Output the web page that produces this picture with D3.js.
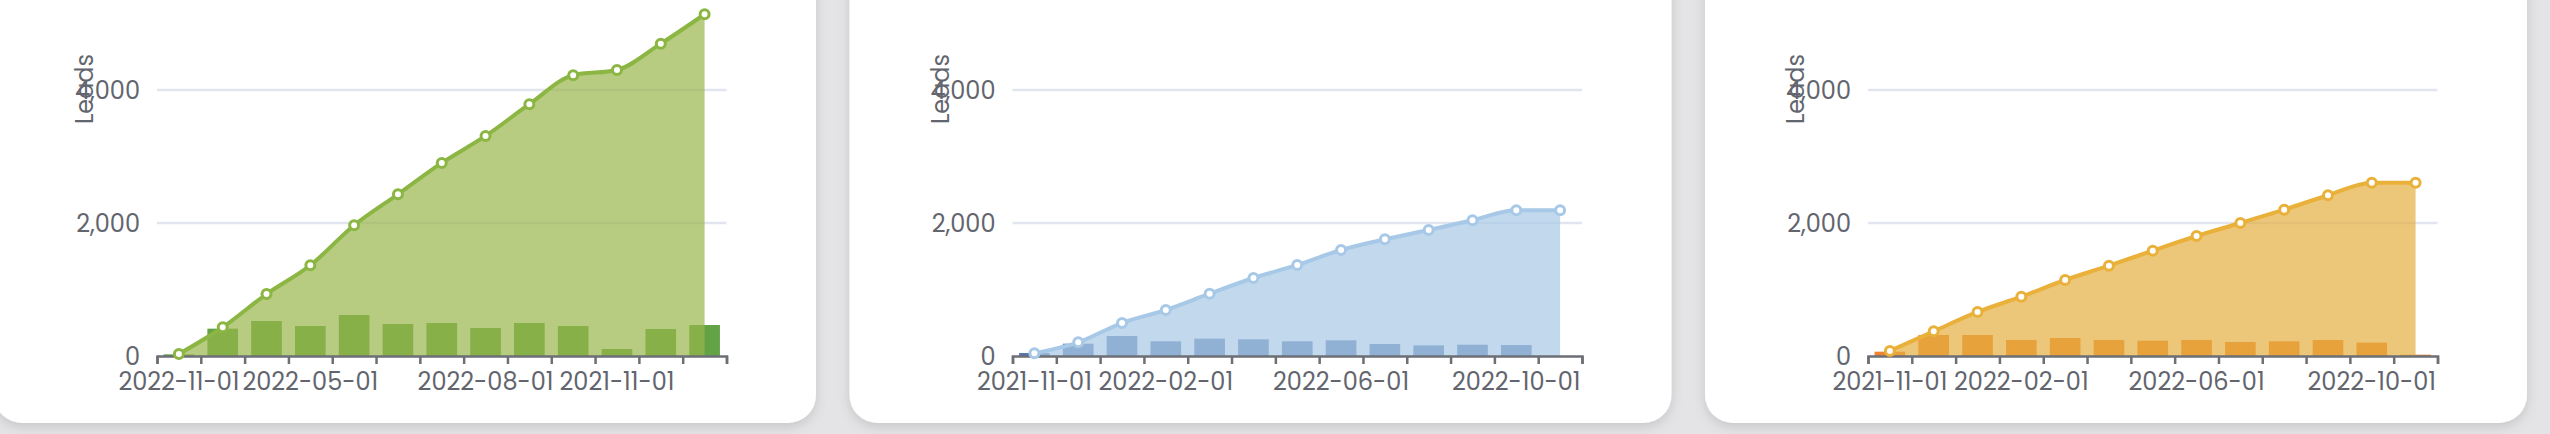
<!DOCTYPE html>
<html>
<head>
<meta charset="utf-8">
<script src="https://cdn.jsdelivr.net/npm/d3@7"></script>
<style>
  html, body { margin: 0; padding: 0; background: #e4e4e6; }
  svg { display: block; }
  text { font-family: "Poppins", "Inter", sans-serif; fill: #62656e; }
</style>
</head>
<body>
<svg id="chart" width="2550" height="434"></svg>
<script>
// Card 1 (green)
var greenLabels = ["2022-11-01", "", "", "2022-05-01", "", "", "", "2022-08-01", "", "", "2021-11-01", "", ""];
var greenMonthly = [25, 411, 526, 451, 617, 481, 496, 421, 496, 451, 105, 406, 466];
var greenTotal = [30, 432, 932, 1364, 1966, 2432, 2903, 3309, 3786, 4222, 4301, 4697, 5139];

// Card 2 (blue)
var blueLabels = ["2021-11-01", "", "", "2022-02-01", "", "", "", "2022-06-01", "", "", "", "2022-10-01", ""];
var blueMonthly = [45, 185, 301, 221, 261, 251, 221, 236, 180, 160, 170, 165, 0];
var blueTotal = [41, 206, 496, 692, 937, 1173, 1369, 1594, 1755, 1895, 2041, 2191, 2191];

// Card 3 (orange)
var orangeLabels = ["2021-11-01", "", "", "2022-02-01", "", "", "", "2022-06-01", "", "", "", "2022-10-01", ""];
var orangeMonthly = [65, 316, 316, 241, 271, 241, 231, 241, 211, 221, 241, 201, 20];
var orangeTotal = [75, 371, 662, 892, 1143, 1358, 1584, 1805, 2000, 2200, 2417, 2607, 2607];

var yTicks = [0, 2000, 4000];

var cards = [
    { labels: greenLabels, monthly: greenMonthly, total: greenTotal,
      bar: "#63a245", area: "#98b64c", line: "#8cb643" },
    { labels: blueLabels, monthly: blueMonthly, total: blueTotal,
      bar: "#5876ac", area: "#a8c9e5", line: "#a7c9e7" },
    { labels: orangeLabels, monthly: orangeMonthly, total: orangeTotal,
      bar: "#f0842e", area: "#e4af41", line: "#e9b13a" }
];

var svg = d3.select("#chart");

var defs = svg.append("defs");
var shadow = defs.append("filter").attr("id", "shadow")
    .attr("x", "-10%").attr("y", "-10%").attr("width", "120%").attr("height", "130%");
shadow.append("feDropShadow")
    .attr("dx", 0).attr("dy", 4).attr("stdDeviation", 6)
    .attr("flood-color", "#000").attr("flood-opacity", 0.13);

var period = 855.5;
var plotW = 569.5;
var baseY = 356;
var fontSize = "24px";

cards.forEach(function(c, k) {
    var left = 157 + k * period;
    var g = svg.append("g");

    // card background
    g.append("rect")
        .attr("x", left - 163)
        .attr("y", -40)
        .attr("width", 822)
        .attr("height", 463)
        .attr("rx", 28)
        .style("fill", "#fff")
        .attr("filter", "url(#shadow)");

    var idx = d3.range(c.total.length);
    var x = d3.scaleBand().domain(idx).range([left, left + plotW])
        .paddingInner(0.3).paddingOuter(0.15);
    var xTick = d3.scaleLinear().domain([0, idx.length]).range([left, left + plotW]);
    var y = d3.scaleLinear().domain([0, 4000]).range([baseY, 90]);
    var cx = function(i) { return x(i) + x.bandwidth() / 2; };

    // gridlines
    g.selectAll(".grid")
        .data(yTicks.filter(function(d) { return d > 0; }))
        .enter()
        .append("line")
        .attr("x1", left).attr("x2", left + plotW)
        .attr("y1", function(d) { return y(d); })
        .attr("y2", function(d) { return y(d); })
        .style("stroke", "#e2e5f0")
        .style("stroke-width", 2.5);

    // y labels
    g.selectAll(".ylab")
        .data(yTicks)
        .enter()
        .append("text")
        .attr("x", left - 17)
        .attr("y", function(d) { return y(d); })
        .attr("dy", "0.36em")
        .attr("text-anchor", "end")
        .style("font-size", fontSize)
        .text(d3.format(","));

    g.append("text")
        .attr("transform", "translate(" + (left - 64) + ",89) rotate(-90)")
        .attr("text-anchor", "middle")
        .style("font-size", fontSize)
        .text("Leads");

    // monthly bars
    g.selectAll(".bar")
        .data(idx)
        .enter()
        .append("rect")
        .attr("x", function(i) { return x(i); })
        .attr("y", function(i) { return y(c.monthly[i]); })
        .attr("width", x.bandwidth())
        .attr("height", function(i) { return baseY - y(c.monthly[i]); })
        .style("fill", c.bar);

    // cumulative area + line
    var area = d3.area()
        .x(cx)
        .y0(baseY)
        .y1(function(i) { return y(c.total[i]); })
        .curve(d3.curveMonotoneX);
    var line = d3.line()
        .x(cx)
        .y(function(i) { return y(c.total[i]); })
        .curve(d3.curveMonotoneX);

    g.append("path")
        .datum(idx)
        .attr("d", area)
        .style("fill", c.area)
        .style("opacity", 0.7);

    g.append("path")
        .datum(idx)
        .attr("d", line)
        .style("fill", "none")
        .style("stroke", c.line)
        .style("stroke-width", 4);

    // x axis: ticks at band edges, labels at band centres
    var axis = g.append("g")
        .attr("transform", "translate(0," + baseY + ")")
        .call(d3.axisBottom(xTick).tickValues(d3.range(idx.length + 1))
            .tickFormat("").tickSize(8).tickSizeOuter(8));
    axis.selectAll("path, line")
        .style("stroke", "#6c6f76")
        .style("stroke-width", 2.5);

    var labs = g.append("g")
        .attr("transform", "translate(0," + baseY + ")")
        .call(d3.axisBottom(x).tickSize(0).tickPadding(17)
            .tickFormat(function(i) { return c.labels[i]; }));
    labs.select(".domain").remove();
    labs.selectAll("text")
        .style("font-size", fontSize)
        .style("fill", "#62656e")
        .style("font-family", "Poppins, Inter, sans-serif");

    // points
    g.selectAll(".pt")
        .data(idx)
        .enter()
        .append("circle")
        .attr("cx", cx)
        .attr("cy", function(i) { return y(c.total[i]); })
        .attr("r", 4.5)
        .style("fill", "#fff")
        .style("stroke", c.line)
        .style("stroke-width", 3);
});
</script>
</body>
</html>
